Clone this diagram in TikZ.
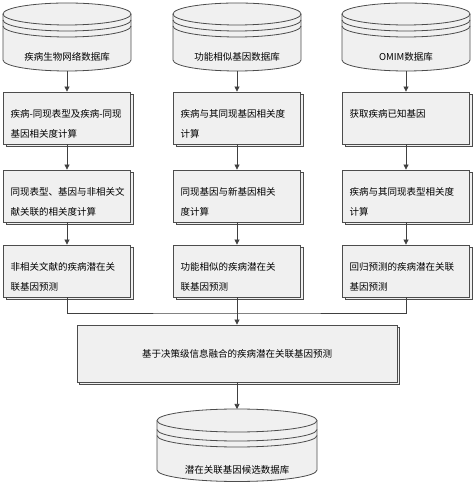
\documentclass[tikz,border=0pt]{standalone}
\usepackage{fontspec}
\setmainfont{Noto Sans CJK SC}
\usetikzlibrary{arrows.meta,shadows}

\begin{document}
\begin{tikzpicture}[x=1pt,y=1pt,
  panel/.style={draw=black!70, fill=gray!12, line width=0.8pt, copy shadow={shadow xshift=2.5pt,shadow yshift=-2.5pt}},
  stepbox/.style={panel, text width=113pt, align=left, inner xsep=7pt, inner ysep=0pt, text height=25.5pt, text depth=26.5pt, font=\fontsize{9.5}{20}\selectfont},
  fusebox/.style={panel, minimum width=320pt, minimum height=57pt, font=\fontsize{9.5}{12}\selectfont},
  dbbody/.style={draw=black!70, fill=gray!12, line width=0.8pt},
  dbband/.style={draw=black!70, line width=0.8pt},
  dblabel/.style={font=\fontsize{9.5}{12}\selectfont, inner sep=0pt},
  link/.style={draw=black!75, line width=0.7pt},
  arrow/.style={link, -{Triangle[length=5pt,width=5pt]}}]
\useasboundingbox (0,0) rectangle (474,489);

% source databases
\foreach \cx/\nm/\txt in {67/net/疾病生物网络数据库, 237/fun/功能相似基因数据库, 406/omim/OMIM数据库}{
  \path[dbbody] (\cx-64,475) -- (\cx-64,429) arc[start angle=180,end angle=360,x radius=64,y radius=11]
    -- (\cx+64,475) arc[start angle=0,end angle=180,x radius=64,y radius=11] -- cycle;
  \draw[dbband] (\cx-64,475) arc[start angle=180,end angle=360,x radius=64,y radius=11];
  \draw[dbband] (\cx-64,469) arc[start angle=180,end angle=360,x radius=64,y radius=11];
  \draw[dbband] (\cx-64,463) arc[start angle=180,end angle=360,x radius=64,y radius=11];
  \node[dblabel] (db-\nm) at (\cx,432) {\txt};
  \coordinate (db-\nm-bot) at (\cx,418);
}

% left column
\node[stepbox] (b11) at (67,371) {疾病-同现表型及疾病-同现\\基因相关度计算};
\node[stepbox] (b12) at (67,293) {同现表型、基因与非相关文\\献关联的相关度计算};
\node[stepbox] (b13) at (67,218) {非相关文献的疾病潜在关\\联基因预测};

% middle column
\node[stepbox] (b21) at (237,371) {疾病与其同现基因相关度\\计算};
\node[stepbox] (b22) at (237,293) {同现基因与新基因相关\\度计算};
\node[stepbox] (b23) at (237,218) {功能相似的疾病潜在关\\联基因预测};

% right column
\node[stepbox] (b31) at (406,371) {获取疾病已知基因};
\node[stepbox] (b32) at (406,293) {疾病与其同现表型相关度\\计算};
\node[stepbox] (b33) at (406,218) {回归预测的疾病潜在关联\\基因预测};

\node[fusebox] (fuse) at (237,135.5) {基于决策级信息融合的疾病潜在关联基因预测};

% candidate database
\path[dbbody] (157,68.5) -- (157,19) arc[start angle=180,end angle=360,x radius=80,y radius=11.5]
  -- (317,68.5) arc[start angle=0,end angle=180,x radius=80,y radius=11.5] -- cycle;
\draw[dbband] (157,68.5) arc[start angle=180,end angle=360,x radius=80,y radius=11.5];
\draw[dbband] (157,59.5) arc[start angle=180,end angle=360,x radius=80,y radius=11.5];
\draw[dbband] (157,53.5) arc[start angle=180,end angle=360,x radius=80,y radius=11.5];
\node[dblabel] (db-cand) at (237,19) {潜在关联基因候选数据库};
\coordinate (db-cand-top) at (237,80);

\draw[arrow] (db-net-bot) -- (b11.north);
\draw[arrow] (db-fun-bot) -- (b21.north);
\draw[arrow] (db-omim-bot) -- (b31.north);
\draw[arrow] (b11.south) -- (b12.north);
\draw[arrow] (b21.south) -- (b22.north);
\draw[arrow] (b31.south) -- (b32.north);
\draw[arrow] (b12.south) -- (b13.north);
\draw[arrow] (b22.south) -- (b23.north);
\draw[arrow] (b32.south) -- (b33.north);

\coordinate (join) at (237,176);
\draw[link] (b13.south) |- (join) -| (b33.south);
\draw[arrow] (b23.south) -- (fuse.north);
\draw[arrow] (fuse.south) -- (db-cand-top);

\end{tikzpicture}
\end{document}
